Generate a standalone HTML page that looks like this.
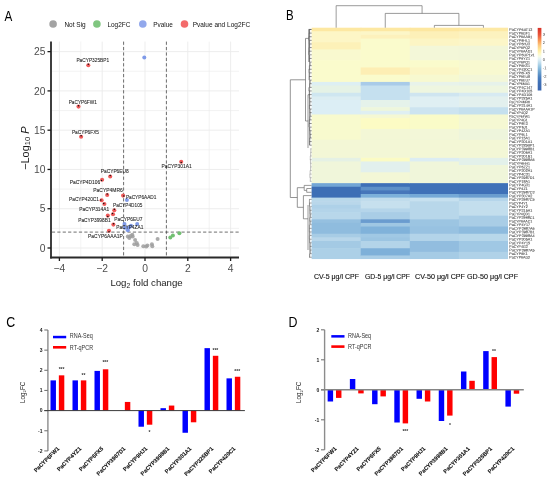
<!DOCTYPE html>
<html><head><meta charset="utf-8"><style>
html,body{margin:0;padding:0;background:#fff;}
svg{display:block;font-family:"Liberation Sans", sans-serif;will-change:transform;}
</style></head><body>
<svg width="550" height="481" viewBox="0 0 550 481">
<rect width="550" height="481" fill="#fff"/>
<text transform="translate(4.5,20.7) scale(0.82,1)" font-size="14.3" fill="#000">A</text>
<circle cx="53.1" cy="24" r="3.8" fill="#a3a3a3"/>
<text x="64.4" y="26.5" font-size="7.6" fill="#111" textLength="21.3" lengthAdjust="spacingAndGlyphs">Not Sig</text>
<circle cx="96.9" cy="24" r="3.8" fill="#80c680"/>
<text x="107.4" y="26.5" font-size="7.6" fill="#111" textLength="22.9" lengthAdjust="spacingAndGlyphs">Log2FC</text>
<circle cx="142.8" cy="24" r="3.8" fill="#92a8ec"/>
<text x="153.2" y="26.5" font-size="7.6" fill="#111" textLength="19.6" lengthAdjust="spacingAndGlyphs">Pvalue</text>
<circle cx="184.5" cy="24" r="3.8" fill="#f36b6b"/>
<text x="192.7" y="26.5" font-size="7.6" fill="#111" textLength="57.5" lengthAdjust="spacingAndGlyphs">Pvalue and Log2FC</text>
<line x1="59.40" y1="41.6" x2="59.40" y2="256.5" stroke="#ebebeb" stroke-width="0.9"/>
<line x1="80.80" y1="41.6" x2="80.80" y2="256.5" stroke="#ebebeb" stroke-width="0.6"/>
<line x1="102.20" y1="41.6" x2="102.20" y2="256.5" stroke="#ebebeb" stroke-width="0.9"/>
<line x1="123.60" y1="41.6" x2="123.60" y2="256.5" stroke="#ebebeb" stroke-width="0.6"/>
<line x1="145.00" y1="41.6" x2="145.00" y2="256.5" stroke="#ebebeb" stroke-width="0.9"/>
<line x1="166.40" y1="41.6" x2="166.40" y2="256.5" stroke="#ebebeb" stroke-width="0.6"/>
<line x1="187.80" y1="41.6" x2="187.80" y2="256.5" stroke="#ebebeb" stroke-width="0.9"/>
<line x1="209.20" y1="41.6" x2="209.20" y2="256.5" stroke="#ebebeb" stroke-width="0.6"/>
<line x1="230.60" y1="41.6" x2="230.60" y2="256.5" stroke="#ebebeb" stroke-width="0.9"/>
<line x1="51.9" y1="248.00" x2="239" y2="248.00" stroke="#ebebeb" stroke-width="0.9"/>
<line x1="51.9" y1="228.36" x2="239" y2="228.36" stroke="#ebebeb" stroke-width="0.6"/>
<line x1="51.9" y1="208.72" x2="239" y2="208.72" stroke="#ebebeb" stroke-width="0.9"/>
<line x1="51.9" y1="189.09" x2="239" y2="189.09" stroke="#ebebeb" stroke-width="0.6"/>
<line x1="51.9" y1="169.45" x2="239" y2="169.45" stroke="#ebebeb" stroke-width="0.9"/>
<line x1="51.9" y1="149.81" x2="239" y2="149.81" stroke="#ebebeb" stroke-width="0.6"/>
<line x1="51.9" y1="130.18" x2="239" y2="130.18" stroke="#ebebeb" stroke-width="0.9"/>
<line x1="51.9" y1="110.54" x2="239" y2="110.54" stroke="#ebebeb" stroke-width="0.6"/>
<line x1="51.9" y1="90.90" x2="239" y2="90.90" stroke="#ebebeb" stroke-width="0.9"/>
<line x1="51.9" y1="71.26" x2="239" y2="71.26" stroke="#ebebeb" stroke-width="0.6"/>
<line x1="51.9" y1="51.62" x2="239" y2="51.62" stroke="#ebebeb" stroke-width="0.9"/>
<line x1="123.60" y1="41.6" x2="123.60" y2="256.5" stroke="#4a4a4a" stroke-width="0.8" stroke-dasharray="3.2,2.2"/>
<line x1="166.40" y1="41.6" x2="166.40" y2="256.5" stroke="#4a4a4a" stroke-width="0.8" stroke-dasharray="3.2,2.2"/>
<line x1="51.9" y1="232.1" x2="239" y2="232.1" stroke="#4a4a4a" stroke-width="0.8" stroke-dasharray="3.2,2.2"/>
<circle cx="127.8" cy="236.4" r="2" fill="#9c9c9c" fill-opacity="0.85"/>
<circle cx="129.4" cy="238" r="2" fill="#9c9c9c" fill-opacity="0.85"/>
<circle cx="132.3" cy="234.8" r="2" fill="#9c9c9c" fill-opacity="0.85"/>
<circle cx="132.7" cy="236.4" r="2" fill="#9c9c9c" fill-opacity="0.85"/>
<circle cx="135.1" cy="240.1" r="2" fill="#9c9c9c" fill-opacity="0.85"/>
<circle cx="134.3" cy="244.2" r="2" fill="#9c9c9c" fill-opacity="0.85"/>
<circle cx="136.8" cy="243" r="2" fill="#9c9c9c" fill-opacity="0.85"/>
<circle cx="137.6" cy="245" r="2" fill="#9c9c9c" fill-opacity="0.85"/>
<circle cx="143.3" cy="246.2" r="2" fill="#9c9c9c" fill-opacity="0.85"/>
<circle cx="146.2" cy="246.6" r="2" fill="#9c9c9c" fill-opacity="0.85"/>
<circle cx="147.4" cy="245.4" r="2" fill="#9c9c9c" fill-opacity="0.85"/>
<circle cx="151.9" cy="244.2" r="2" fill="#9c9c9c" fill-opacity="0.85"/>
<circle cx="152.3" cy="246.2" r="2" fill="#9c9c9c" fill-opacity="0.85"/>
<circle cx="157.6" cy="238.9" r="2" fill="#9c9c9c" fill-opacity="0.85"/>
<circle cx="130.5" cy="236.0" r="2" fill="#9c9c9c" fill-opacity="0.85"/>
<circle cx="170.3" cy="237.5" r="2" fill="#72c072"/>
<circle cx="172.9" cy="235.4" r="2" fill="#72c072"/>
<circle cx="179.4" cy="233.2" r="2" fill="#72c072"/>
<circle cx="144.3" cy="57.6" r="2" fill="#7f9ae8"/>
<circle cx="126.9" cy="199.9" r="2" fill="#7f9ae8"/>
<circle cx="124.5" cy="224.1" r="2" fill="#7f9ae8"/>
<circle cx="131" cy="225.8" r="2" fill="#7f9ae8"/>
<circle cx="137.2" cy="224.1" r="2" fill="#7f9ae8"/>
<circle cx="124.9" cy="227.8" r="2" fill="#7f9ae8"/>
<circle cx="127.8" cy="230.3" r="2" fill="#7f9ae8"/>
<circle cx="129" cy="227.4" r="2" fill="#7f9ae8"/>
<circle cx="88.3" cy="65.2" r="2.05" fill="#f05a5a"/>
<circle cx="78.5" cy="106.6" r="2.05" fill="#f05a5a"/>
<circle cx="81.1" cy="136.7" r="2.05" fill="#f05a5a"/>
<circle cx="181.2" cy="161.7" r="2.05" fill="#f05a5a"/>
<circle cx="110.2" cy="176.5" r="2.05" fill="#f05a5a"/>
<circle cx="102.1" cy="179.7" r="2.05" fill="#f05a5a"/>
<circle cx="107.2" cy="195" r="2.05" fill="#f05a5a"/>
<circle cx="123.1" cy="195.6" r="2.05" fill="#f05a5a"/>
<circle cx="101.6" cy="200.3" r="2.05" fill="#f05a5a"/>
<circle cx="104.4" cy="204" r="2.05" fill="#f05a5a"/>
<circle cx="114.3" cy="210.2" r="2.05" fill="#f05a5a"/>
<circle cx="113" cy="214.3" r="2.05" fill="#f05a5a"/>
<circle cx="107.8" cy="215.6" r="2.05" fill="#f05a5a"/>
<circle cx="113.4" cy="224.6" r="2.05" fill="#f05a5a"/>
<circle cx="109" cy="230.8" r="2.05" fill="#f05a5a"/>
<circle cx="88.30" cy="64.30" r="0.75" fill="#111"/>
<circle cx="78.50" cy="105.70" r="0.75" fill="#111"/>
<circle cx="81.10" cy="135.80" r="0.75" fill="#111"/>
<circle cx="181.20" cy="162.60" r="0.75" fill="#111"/>
<circle cx="110.20" cy="175.60" r="0.75" fill="#111"/>
<circle cx="101.53" cy="180.40" r="0.75" fill="#111"/>
<circle cx="107.20" cy="194.10" r="0.75" fill="#111"/>
<circle cx="123.84" cy="196.11" r="0.75" fill="#111"/>
<circle cx="100.80" cy="199.90" r="0.75" fill="#111"/>
<circle cx="103.74" cy="203.39" r="0.75" fill="#111"/>
<circle cx="114.30" cy="209.30" r="0.75" fill="#111"/>
<circle cx="112.47" cy="213.58" r="0.75" fill="#111"/>
<circle cx="107.80" cy="216.50" r="0.75" fill="#111"/>
<circle cx="113.54" cy="223.71" r="0.75" fill="#111"/>
<circle cx="109.00" cy="231.70" r="0.75" fill="#111"/>
<text x="76.4" y="62.15" font-size="5.3" fill="#222" stroke="#222" stroke-width="0.08" textLength="32.8" lengthAdjust="spacingAndGlyphs">PaCYP325BP1</text>
<text x="68.7" y="103.85" font-size="5.3" fill="#222" stroke="#222" stroke-width="0.08" textLength="28.1" lengthAdjust="spacingAndGlyphs">PaCYP6FW1</text>
<text x="71.9" y="133.75" font-size="5.3" fill="#222" stroke="#222" stroke-width="0.08" textLength="27.1" lengthAdjust="spacingAndGlyphs">PaCYP6FX5</text>
<text x="161.6" y="168.15" font-size="5.3" fill="#222" stroke="#222" stroke-width="0.08" textLength="30.0" lengthAdjust="spacingAndGlyphs">PaCYP301A1</text>
<text x="100.8" y="173.35" font-size="5.3" fill="#222" stroke="#222" stroke-width="0.08" textLength="27.9" lengthAdjust="spacingAndGlyphs">PaCYP6EU8</text>
<text x="69.7" y="183.65" font-size="5.3" fill="#222" stroke="#222" stroke-width="0.08" textLength="30.6" lengthAdjust="spacingAndGlyphs">PaCYP4D106</text>
<text x="93.3" y="191.75" font-size="5.3" fill="#222" stroke="#222" stroke-width="0.08" textLength="29.4" lengthAdjust="spacingAndGlyphs">PaCYP4MR6</text>
<text x="125.9" y="199.25" font-size="5.3" fill="#222" stroke="#222" stroke-width="0.08" textLength="30.5" lengthAdjust="spacingAndGlyphs">PaCYP6AAD1</text>
<text x="69" y="200.75" font-size="5.3" fill="#222" stroke="#222" stroke-width="0.08" textLength="30.0" lengthAdjust="spacingAndGlyphs">PaCYP420C1</text>
<text x="113" y="206.75" font-size="5.3" fill="#222" stroke="#222" stroke-width="0.08" textLength="29.4" lengthAdjust="spacingAndGlyphs">PaCYP4D105</text>
<text x="79.3" y="210.75" font-size="5.3" fill="#222" stroke="#222" stroke-width="0.08" textLength="29.8" lengthAdjust="spacingAndGlyphs">PaCYP314A1</text>
<text x="78.2" y="222.25" font-size="5.3" fill="#222" stroke="#222" stroke-width="0.08" textLength="32.4" lengthAdjust="spacingAndGlyphs">PaCYP3998B1</text>
<text x="114.3" y="220.75" font-size="5.3" fill="#222" stroke="#222" stroke-width="0.08" textLength="28.1" lengthAdjust="spacingAndGlyphs">PaCYP6EU7</text>
<text x="116.2" y="228.75" font-size="5.3" fill="#222" stroke="#222" stroke-width="0.08" textLength="27.1" lengthAdjust="spacingAndGlyphs">PaCYP4ZA1</text>
<text x="88.1" y="238.15" font-size="5.3" fill="#222" stroke="#222" stroke-width="0.08" textLength="34.6" lengthAdjust="spacingAndGlyphs">PaCYP6AAA1P</text>
<line x1="51" y1="41.6" x2="51" y2="258.4" stroke="#2a2a2a" stroke-width="1.8"/>
<line x1="50.1" y1="257.5" x2="239" y2="257.5" stroke="#2a2a2a" stroke-width="1.8"/>
<line x1="47.5" y1="248.00" x2="51" y2="248.00" stroke="#1a1a1a" stroke-width="1.3"/>
<text x="45.5" y="251.70" font-size="10.3" fill="#4d4d4d" text-anchor="end">0</text>
<line x1="47.5" y1="208.72" x2="51" y2="208.72" stroke="#1a1a1a" stroke-width="1.3"/>
<text x="45.5" y="212.42" font-size="10.3" fill="#4d4d4d" text-anchor="end">5</text>
<line x1="47.5" y1="169.45" x2="51" y2="169.45" stroke="#1a1a1a" stroke-width="1.3"/>
<text x="45.5" y="173.15" font-size="10.3" fill="#4d4d4d" text-anchor="end">10</text>
<line x1="47.5" y1="130.18" x2="51" y2="130.18" stroke="#1a1a1a" stroke-width="1.3"/>
<text x="45.5" y="133.88" font-size="10.3" fill="#4d4d4d" text-anchor="end">15</text>
<line x1="47.5" y1="90.90" x2="51" y2="90.90" stroke="#1a1a1a" stroke-width="1.3"/>
<text x="45.5" y="94.60" font-size="10.3" fill="#4d4d4d" text-anchor="end">20</text>
<line x1="47.5" y1="51.62" x2="51" y2="51.62" stroke="#1a1a1a" stroke-width="1.3"/>
<text x="45.5" y="55.33" font-size="10.3" fill="#4d4d4d" text-anchor="end">25</text>
<line x1="59.40" y1="257.5" x2="59.40" y2="261" stroke="#1a1a1a" stroke-width="1.3"/>
<text x="59.40" y="272.2" font-size="10.3" fill="#4d4d4d" text-anchor="middle">−4</text>
<line x1="102.20" y1="257.5" x2="102.20" y2="261" stroke="#1a1a1a" stroke-width="1.3"/>
<text x="102.20" y="272.2" font-size="10.3" fill="#4d4d4d" text-anchor="middle">−2</text>
<line x1="145.00" y1="257.5" x2="145.00" y2="261" stroke="#1a1a1a" stroke-width="1.3"/>
<text x="145.00" y="272.2" font-size="10.3" fill="#4d4d4d" text-anchor="middle">0</text>
<line x1="187.80" y1="257.5" x2="187.80" y2="261" stroke="#1a1a1a" stroke-width="1.3"/>
<text x="187.80" y="272.2" font-size="10.3" fill="#4d4d4d" text-anchor="middle">2</text>
<line x1="230.60" y1="257.5" x2="230.60" y2="261" stroke="#1a1a1a" stroke-width="1.3"/>
<text x="230.60" y="272.2" font-size="10.3" fill="#4d4d4d" text-anchor="middle">4</text>
<text x="110.4" y="285.5" font-size="9.65" fill="#1a1a1a">Log<tspan font-size="6.8" dy="2.4">2</tspan><tspan dy="-2.4"> fold change</tspan></text>
<text transform="translate(29.2,148.2) rotate(-90)" font-size="10.9" fill="#1a1a1a" text-anchor="middle">−Log<tspan font-size="7.6" dy="0.9">10</tspan><tspan dy="-0.9"> </tspan><tspan font-style="italic">P</tspan></text>
<text transform="translate(285.9,19.7) scale(0.8,1)" font-size="14.3" fill="#000">B</text>
<rect x="311.60" y="27.70" width="49.70" height="4.21" fill="#fde8a2"/>
<rect x="311.60" y="31.31" width="49.70" height="11.45" fill="#fdf6c6"/>
<rect x="311.60" y="42.16" width="49.70" height="7.83" fill="#fdf1b8"/>
<rect x="311.60" y="49.39" width="49.70" height="11.45" fill="#f9f9cf"/>
<rect x="311.60" y="60.23" width="49.70" height="22.29" fill="#fafbcc"/>
<rect x="311.60" y="81.92" width="49.70" height="4.21" fill="#ddeff3"/>
<rect x="311.60" y="85.54" width="49.70" height="7.83" fill="#e5f2e6"/>
<rect x="311.60" y="92.77" width="49.70" height="4.21" fill="#cfe6f0"/>
<rect x="311.60" y="96.39" width="49.70" height="4.21" fill="#dcedf2"/>
<rect x="311.60" y="100.00" width="49.70" height="15.06" fill="#dceef5"/>
<rect x="311.60" y="114.46" width="49.70" height="25.91" fill="#f8face"/>
<rect x="311.60" y="139.77" width="49.70" height="18.68" fill="#f3f7d6"/>
<rect x="311.60" y="157.84" width="49.70" height="4.21" fill="#e5f1e5"/>
<rect x="311.60" y="161.45" width="49.70" height="22.29" fill="#f0f6da"/>
<rect x="311.60" y="183.15" width="49.70" height="4.21" fill="#72a5d5"/>
<rect x="311.60" y="186.76" width="49.70" height="11.45" fill="#3d6eb5"/>
<rect x="311.60" y="197.60" width="49.70" height="4.21" fill="#b9d8ea"/>
<rect x="311.60" y="201.22" width="49.70" height="4.21" fill="#b9d7ea"/>
<rect x="311.60" y="204.84" width="49.70" height="4.21" fill="#aed1e8"/>
<rect x="311.60" y="208.45" width="49.70" height="4.21" fill="#b3d4e9"/>
<rect x="311.60" y="212.06" width="49.70" height="7.83" fill="#b8d7ea"/>
<rect x="311.60" y="219.29" width="49.70" height="4.21" fill="#95c0e0"/>
<rect x="311.60" y="222.91" width="49.70" height="11.45" fill="#8fbcde"/>
<rect x="311.60" y="233.75" width="49.70" height="4.21" fill="#a7cce5"/>
<rect x="311.60" y="237.37" width="49.70" height="4.21" fill="#b8d6ea"/>
<rect x="311.60" y="240.99" width="49.70" height="7.83" fill="#a4cae4"/>
<rect x="311.60" y="248.22" width="49.70" height="10.85" fill="#acd0e7"/>
<rect x="360.70" y="27.70" width="49.70" height="4.21" fill="#fde8a2"/>
<rect x="360.70" y="31.31" width="49.70" height="4.21" fill="#fcf6c8"/>
<rect x="360.70" y="34.93" width="49.70" height="4.21" fill="#fdf1bc"/>
<rect x="360.70" y="38.55" width="49.70" height="29.52" fill="#fafbcc"/>
<rect x="360.70" y="67.47" width="49.70" height="7.83" fill="#fdeeb4"/>
<rect x="360.70" y="74.70" width="49.70" height="7.83" fill="#fafbcc"/>
<rect x="360.70" y="81.92" width="49.70" height="4.21" fill="#a9cbe8"/>
<rect x="360.70" y="85.54" width="49.70" height="15.06" fill="#c5e0ef"/>
<rect x="360.70" y="100.00" width="49.70" height="7.83" fill="#e5f2ea"/>
<rect x="360.70" y="107.23" width="49.70" height="4.21" fill="#eef6dc"/>
<rect x="360.70" y="110.85" width="49.70" height="4.21" fill="#dfeff2"/>
<rect x="360.70" y="114.46" width="49.70" height="4.21" fill="#f5f8d3"/>
<rect x="360.70" y="118.08" width="49.70" height="11.45" fill="#fcfbc4"/>
<rect x="360.70" y="128.92" width="49.70" height="11.45" fill="#f3f7d6"/>
<rect x="360.70" y="139.77" width="49.70" height="18.68" fill="#f3f7d6"/>
<rect x="360.70" y="157.84" width="49.70" height="4.21" fill="#fbfbc4"/>
<rect x="360.70" y="161.45" width="49.70" height="11.45" fill="#e2f0ed"/>
<rect x="360.70" y="172.30" width="49.70" height="11.45" fill="#f3f7d6"/>
<rect x="360.70" y="183.15" width="49.70" height="4.21" fill="#3e70b7"/>
<rect x="360.70" y="186.76" width="49.70" height="4.21" fill="#5d90c8"/>
<rect x="360.70" y="190.38" width="49.70" height="4.21" fill="#4676ba"/>
<rect x="360.70" y="193.99" width="49.70" height="4.21" fill="#7cb0da"/>
<rect x="360.70" y="197.60" width="49.70" height="4.21" fill="#c0dcec"/>
<rect x="360.70" y="201.22" width="49.70" height="7.83" fill="#c6e0ee"/>
<rect x="360.70" y="208.45" width="49.70" height="4.21" fill="#b5d5ea"/>
<rect x="360.70" y="212.06" width="49.70" height="7.83" fill="#a9cde6"/>
<rect x="360.70" y="219.29" width="49.70" height="4.21" fill="#6a9ccf"/>
<rect x="360.70" y="222.91" width="49.70" height="4.21" fill="#9fc7e3"/>
<rect x="360.70" y="226.53" width="49.70" height="7.83" fill="#80b2da"/>
<rect x="360.70" y="233.75" width="49.70" height="4.21" fill="#a0c8e4"/>
<rect x="360.70" y="237.37" width="49.70" height="4.21" fill="#9cc5e2"/>
<rect x="360.70" y="240.99" width="49.70" height="7.83" fill="#b3d4e9"/>
<rect x="360.70" y="248.22" width="49.70" height="7.83" fill="#7eb0d9"/>
<rect x="360.70" y="255.44" width="49.70" height="3.62" fill="#a9cde6"/>
<rect x="409.80" y="27.70" width="49.70" height="4.21" fill="#fde7a0"/>
<rect x="409.80" y="31.31" width="49.70" height="7.83" fill="#fdf0b8"/>
<rect x="409.80" y="38.55" width="49.70" height="7.83" fill="#fcf5c4"/>
<rect x="409.80" y="45.78" width="49.70" height="15.06" fill="#f3f7d8"/>
<rect x="409.80" y="60.23" width="49.70" height="7.83" fill="#fafbcc"/>
<rect x="409.80" y="67.47" width="49.70" height="7.83" fill="#fbf6c6"/>
<rect x="409.80" y="74.70" width="49.70" height="7.83" fill="#f7f9d0"/>
<rect x="409.80" y="81.92" width="49.70" height="4.21" fill="#e8f3ea"/>
<rect x="409.80" y="85.54" width="49.70" height="7.83" fill="#eef6e0"/>
<rect x="409.80" y="92.77" width="49.70" height="4.21" fill="#cfe5f0"/>
<rect x="409.80" y="96.39" width="49.70" height="11.45" fill="#dfeff3"/>
<rect x="409.80" y="107.23" width="49.70" height="7.83" fill="#cde4f0"/>
<rect x="409.80" y="114.46" width="49.70" height="15.06" fill="#fafbc8"/>
<rect x="409.80" y="128.92" width="49.70" height="11.45" fill="#f3f7d8"/>
<rect x="409.80" y="139.77" width="49.70" height="18.68" fill="#f3f7d6"/>
<rect x="409.80" y="157.84" width="49.70" height="4.21" fill="#dcedf3"/>
<rect x="409.80" y="161.45" width="49.70" height="22.29" fill="#f0f6da"/>
<rect x="409.80" y="183.15" width="49.70" height="11.45" fill="#3f71b8"/>
<rect x="409.80" y="193.99" width="49.70" height="4.21" fill="#75a9d7"/>
<rect x="409.80" y="197.60" width="49.70" height="4.21" fill="#c6e0ef"/>
<rect x="409.80" y="201.22" width="49.70" height="18.68" fill="#b8d7ea"/>
<rect x="409.80" y="219.29" width="49.70" height="7.83" fill="#9cc5e2"/>
<rect x="409.80" y="226.53" width="49.70" height="7.83" fill="#98c2e1"/>
<rect x="409.80" y="233.75" width="49.70" height="7.83" fill="#b3d4e9"/>
<rect x="409.80" y="240.99" width="49.70" height="11.45" fill="#92bddf"/>
<rect x="409.80" y="251.83" width="49.70" height="7.23" fill="#a5cbe5"/>
<rect x="458.90" y="27.70" width="49.10" height="4.21" fill="#fde9a5"/>
<rect x="458.90" y="31.31" width="49.10" height="7.83" fill="#fcf2bf"/>
<rect x="458.90" y="38.55" width="49.10" height="7.83" fill="#fcf6c8"/>
<rect x="458.90" y="45.78" width="49.10" height="15.06" fill="#f2f6d8"/>
<rect x="458.90" y="60.23" width="49.10" height="15.06" fill="#f8f9d0"/>
<rect x="458.90" y="74.70" width="49.10" height="7.83" fill="#f3f7d8"/>
<rect x="458.90" y="81.92" width="49.10" height="4.21" fill="#e6f2ea"/>
<rect x="458.90" y="85.54" width="49.10" height="7.83" fill="#eef6e0"/>
<rect x="458.90" y="92.77" width="49.10" height="4.21" fill="#d7eaf2"/>
<rect x="458.90" y="96.39" width="49.10" height="11.45" fill="#e3f0ee"/>
<rect x="458.90" y="107.23" width="49.10" height="7.83" fill="#c5e0ee"/>
<rect x="458.90" y="114.46" width="49.10" height="15.06" fill="#f5f8d3"/>
<rect x="458.90" y="128.92" width="49.10" height="11.45" fill="#eef5dc"/>
<rect x="458.90" y="139.77" width="49.10" height="18.68" fill="#f3f7d6"/>
<rect x="458.90" y="157.84" width="49.10" height="7.83" fill="#e3f1ea"/>
<rect x="458.90" y="165.07" width="49.10" height="18.68" fill="#f0f6da"/>
<rect x="458.90" y="183.15" width="49.10" height="11.45" fill="#3f71b8"/>
<rect x="458.90" y="193.99" width="49.10" height="4.21" fill="#6a9dcf"/>
<rect x="458.90" y="197.60" width="49.10" height="4.21" fill="#b5d5ea"/>
<rect x="458.90" y="201.22" width="49.10" height="15.06" fill="#c3deed"/>
<rect x="458.90" y="215.68" width="49.10" height="11.45" fill="#a9cde6"/>
<rect x="458.90" y="226.53" width="49.10" height="7.83" fill="#8ebbde"/>
<rect x="458.90" y="233.75" width="49.10" height="7.83" fill="#b8d7ea"/>
<rect x="458.90" y="240.99" width="49.10" height="11.45" fill="#a0c8e4"/>
<rect x="458.90" y="251.83" width="49.10" height="7.23" fill="#b0d2e8"/>
<line x1="434.35" y1="25.40" x2="483.45" y2="25.40" stroke="#707070" stroke-width="0.7"/>
<line x1="434.35" y1="25.40" x2="434.35" y2="27.70" stroke="#707070" stroke-width="0.7"/>
<line x1="483.45" y1="25.40" x2="483.45" y2="27.70" stroke="#707070" stroke-width="0.7"/>
<line x1="385.25" y1="13.40" x2="458.90" y2="13.40" stroke="#707070" stroke-width="0.7"/>
<line x1="385.25" y1="13.40" x2="385.25" y2="27.70" stroke="#707070" stroke-width="0.7"/>
<line x1="458.90" y1="13.40" x2="458.90" y2="25.40" stroke="#707070" stroke-width="0.7"/>
<line x1="336.15" y1="5.70" x2="422.08" y2="5.70" stroke="#707070" stroke-width="0.7"/>
<line x1="336.15" y1="5.70" x2="336.15" y2="27.70" stroke="#707070" stroke-width="0.7"/>
<line x1="422.08" y1="5.70" x2="422.08" y2="13.40" stroke="#707070" stroke-width="0.7"/>
<line x1="290.30" y1="79.80" x2="290.30" y2="197.50" stroke="#707070" stroke-width="0.75"/>
<line x1="290.30" y1="79.80" x2="305.50" y2="79.80" stroke="#707070" stroke-width="0.75"/>
<line x1="290.30" y1="197.50" x2="297.30" y2="197.50" stroke="#707070" stroke-width="0.75"/>
<line x1="305.50" y1="38.40" x2="305.50" y2="121.00" stroke="#707070" stroke-width="0.75"/>
<line x1="305.50" y1="38.40" x2="308.70" y2="38.40" stroke="#707070" stroke-width="0.7"/>
<line x1="305.50" y1="121.00" x2="308.00" y2="121.00" stroke="#707070" stroke-width="0.7"/>
<line x1="308.70" y1="29.40" x2="308.70" y2="62.00" stroke="#707070" stroke-width="0.7"/>
<line x1="308.70" y1="29.40" x2="311.20" y2="29.40" stroke="#707070" stroke-width="0.7"/>
<line x1="308.00" y1="94.70" x2="308.00" y2="148.00" stroke="#707070" stroke-width="0.7"/>
<line x1="308.00" y1="94.70" x2="310.00" y2="94.70" stroke="#707070" stroke-width="0.7"/>
<line x1="297.30" y1="187.70" x2="297.30" y2="207.30" stroke="#707070" stroke-width="0.75"/>
<line x1="297.30" y1="187.70" x2="304.20" y2="187.70" stroke="#707070" stroke-width="0.75"/>
<line x1="304.20" y1="185.40" x2="304.20" y2="190.40" stroke="#707070" stroke-width="0.7"/>
<line x1="304.20" y1="185.40" x2="311.60" y2="185.40" stroke="#707070" stroke-width="0.7"/>
<line x1="304.20" y1="190.40" x2="306.70" y2="190.40" stroke="#707070" stroke-width="0.7"/>
<line x1="306.70" y1="188.50" x2="306.70" y2="192.30" stroke="#707070" stroke-width="0.7"/>
<line x1="306.70" y1="188.50" x2="311.60" y2="188.50" stroke="#707070" stroke-width="0.7"/>
<line x1="306.70" y1="192.30" x2="311.60" y2="192.30" stroke="#707070" stroke-width="0.7"/>
<line x1="297.30" y1="207.30" x2="303.40" y2="207.30" stroke="#707070" stroke-width="0.75"/>
<line x1="303.40" y1="195.60" x2="303.40" y2="218.80" stroke="#707070" stroke-width="0.75"/>
<line x1="303.40" y1="195.60" x2="311.60" y2="195.60" stroke="#707070" stroke-width="0.7"/>
<line x1="303.40" y1="218.80" x2="308.00" y2="218.80" stroke="#707070" stroke-width="0.7"/>
<line x1="308.00" y1="205.00" x2="308.00" y2="250.00" stroke="#707070" stroke-width="0.7"/>
<line x1="309.32" y1="29.51" x2="311.70" y2="29.51" stroke="#444" stroke-width="0.6"/>
<line x1="309.04" y1="33.12" x2="311.70" y2="33.12" stroke="#444" stroke-width="0.6"/>
<line x1="309.43" y1="29.51" x2="309.43" y2="33.12" stroke="#444" stroke-width="0.6"/>
<line x1="308.92" y1="36.74" x2="311.70" y2="36.74" stroke="#444" stroke-width="0.6"/>
<line x1="309.24" y1="33.12" x2="309.24" y2="36.74" stroke="#444" stroke-width="0.6"/>
<line x1="309.39" y1="40.35" x2="311.70" y2="40.35" stroke="#444" stroke-width="0.6"/>
<line x1="308.95" y1="36.74" x2="308.95" y2="40.35" stroke="#444" stroke-width="0.6"/>
<line x1="309.61" y1="43.97" x2="311.70" y2="43.97" stroke="#444" stroke-width="0.6"/>
<line x1="309.41" y1="40.35" x2="309.41" y2="43.97" stroke="#444" stroke-width="0.6"/>
<line x1="309.49" y1="47.58" x2="311.70" y2="47.58" stroke="#444" stroke-width="0.6"/>
<line x1="309.54" y1="43.97" x2="309.54" y2="47.58" stroke="#444" stroke-width="0.6"/>
<line x1="308.95" y1="51.20" x2="311.70" y2="51.20" stroke="#444" stroke-width="0.6"/>
<line x1="309.20" y1="47.58" x2="309.20" y2="51.20" stroke="#444" stroke-width="0.6"/>
<line x1="310.12" y1="54.81" x2="311.70" y2="54.81" stroke="#444" stroke-width="0.6"/>
<line x1="309.02" y1="51.20" x2="309.02" y2="54.81" stroke="#444" stroke-width="0.6"/>
<line x1="309.16" y1="58.43" x2="311.70" y2="58.43" stroke="#444" stroke-width="0.6"/>
<line x1="309.53" y1="54.81" x2="309.53" y2="58.43" stroke="#444" stroke-width="0.6"/>
<line x1="310.32" y1="62.04" x2="311.70" y2="62.04" stroke="#444" stroke-width="0.6"/>
<line x1="309.50" y1="58.43" x2="309.50" y2="62.04" stroke="#444" stroke-width="0.6"/>
<line x1="309.43" y1="65.66" x2="311.70" y2="65.66" stroke="#444" stroke-width="0.6"/>
<line x1="310.02" y1="62.04" x2="310.02" y2="65.66" stroke="#444" stroke-width="0.6"/>
<line x1="308.87" y1="69.27" x2="311.70" y2="69.27" stroke="#444" stroke-width="0.6"/>
<line x1="309.39" y1="65.66" x2="309.39" y2="69.27" stroke="#444" stroke-width="0.6"/>
<line x1="309.26" y1="72.89" x2="311.70" y2="72.89" stroke="#444" stroke-width="0.6"/>
<line x1="308.96" y1="69.27" x2="308.96" y2="72.89" stroke="#444" stroke-width="0.6"/>
<line x1="308.99" y1="76.50" x2="311.70" y2="76.50" stroke="#444" stroke-width="0.6"/>
<line x1="309.17" y1="72.89" x2="309.17" y2="76.50" stroke="#444" stroke-width="0.6"/>
<line x1="310.11" y1="80.12" x2="311.70" y2="80.12" stroke="#444" stroke-width="0.6"/>
<line x1="309.10" y1="76.50" x2="309.10" y2="80.12" stroke="#444" stroke-width="0.6"/>
<line x1="309.73" y1="83.73" x2="311.70" y2="83.73" stroke="#444" stroke-width="0.6"/>
<line x1="310.11" y1="80.12" x2="310.11" y2="83.73" stroke="#444" stroke-width="0.6"/>
<line x1="309.40" y1="87.35" x2="311.70" y2="87.35" stroke="#444" stroke-width="0.6"/>
<line x1="309.72" y1="83.73" x2="309.72" y2="87.35" stroke="#444" stroke-width="0.6"/>
<line x1="308.90" y1="90.96" x2="311.70" y2="90.96" stroke="#444" stroke-width="0.6"/>
<line x1="308.94" y1="87.35" x2="308.94" y2="90.96" stroke="#444" stroke-width="0.6"/>
<line x1="309.13" y1="94.58" x2="311.70" y2="94.58" stroke="#444" stroke-width="0.6"/>
<line x1="309.31" y1="90.96" x2="309.31" y2="94.58" stroke="#444" stroke-width="0.6"/>
<line x1="309.48" y1="98.19" x2="311.70" y2="98.19" stroke="#444" stroke-width="0.6"/>
<line x1="309.32" y1="94.58" x2="309.32" y2="98.19" stroke="#444" stroke-width="0.6"/>
<line x1="309.74" y1="101.81" x2="311.70" y2="101.81" stroke="#444" stroke-width="0.6"/>
<line x1="309.76" y1="98.19" x2="309.76" y2="101.81" stroke="#444" stroke-width="0.6"/>
<line x1="309.28" y1="105.42" x2="311.70" y2="105.42" stroke="#444" stroke-width="0.6"/>
<line x1="309.76" y1="101.81" x2="309.76" y2="105.42" stroke="#444" stroke-width="0.6"/>
<line x1="309.92" y1="109.04" x2="311.70" y2="109.04" stroke="#444" stroke-width="0.6"/>
<line x1="309.43" y1="105.42" x2="309.43" y2="109.04" stroke="#444" stroke-width="0.6"/>
<line x1="309.72" y1="112.65" x2="311.70" y2="112.65" stroke="#444" stroke-width="0.6"/>
<line x1="310.03" y1="109.04" x2="310.03" y2="112.65" stroke="#444" stroke-width="0.6"/>
<line x1="310.20" y1="116.27" x2="311.70" y2="116.27" stroke="#444" stroke-width="0.6"/>
<line x1="310.16" y1="112.65" x2="310.16" y2="116.27" stroke="#444" stroke-width="0.6"/>
<line x1="309.26" y1="119.88" x2="311.70" y2="119.88" stroke="#444" stroke-width="0.6"/>
<line x1="309.85" y1="116.27" x2="309.85" y2="119.88" stroke="#444" stroke-width="0.6"/>
<line x1="308.99" y1="123.50" x2="311.70" y2="123.50" stroke="#444" stroke-width="0.6"/>
<line x1="309.24" y1="119.88" x2="309.24" y2="123.50" stroke="#444" stroke-width="0.6"/>
<line x1="310.01" y1="127.11" x2="311.70" y2="127.11" stroke="#444" stroke-width="0.6"/>
<line x1="309.08" y1="123.50" x2="309.08" y2="127.11" stroke="#444" stroke-width="0.6"/>
<line x1="309.58" y1="130.73" x2="311.70" y2="130.73" stroke="#444" stroke-width="0.6"/>
<line x1="309.61" y1="127.11" x2="309.61" y2="130.73" stroke="#444" stroke-width="0.6"/>
<line x1="309.87" y1="134.34" x2="311.70" y2="134.34" stroke="#444" stroke-width="0.6"/>
<line x1="310.04" y1="130.73" x2="310.04" y2="134.34" stroke="#444" stroke-width="0.6"/>
<line x1="309.72" y1="137.96" x2="311.70" y2="137.96" stroke="#444" stroke-width="0.6"/>
<line x1="310.24" y1="134.34" x2="310.24" y2="137.96" stroke="#444" stroke-width="0.6"/>
<line x1="309.30" y1="141.57" x2="311.70" y2="141.57" stroke="#444" stroke-width="0.6"/>
<line x1="309.72" y1="137.96" x2="309.72" y2="141.57" stroke="#444" stroke-width="0.6"/>
<line x1="309.75" y1="145.19" x2="311.70" y2="145.19" stroke="#444" stroke-width="0.6"/>
<line x1="309.65" y1="141.57" x2="309.65" y2="145.19" stroke="#444" stroke-width="0.6"/>
<line x1="310.26" y1="148.80" x2="311.70" y2="148.80" stroke="#777" stroke-width="0.45"/>
<line x1="310.64" y1="152.42" x2="311.70" y2="152.42" stroke="#777" stroke-width="0.45"/>
<line x1="310.82" y1="148.80" x2="310.82" y2="152.42" stroke="#777" stroke-width="0.45"/>
<line x1="310.27" y1="156.03" x2="311.70" y2="156.03" stroke="#777" stroke-width="0.45"/>
<line x1="310.67" y1="152.42" x2="310.67" y2="156.03" stroke="#777" stroke-width="0.45"/>
<line x1="309.86" y1="159.65" x2="311.70" y2="159.65" stroke="#777" stroke-width="0.45"/>
<line x1="310.28" y1="156.03" x2="310.28" y2="159.65" stroke="#777" stroke-width="0.45"/>
<line x1="310.45" y1="163.26" x2="311.70" y2="163.26" stroke="#777" stroke-width="0.45"/>
<line x1="310.46" y1="159.65" x2="310.46" y2="163.26" stroke="#777" stroke-width="0.45"/>
<line x1="310.62" y1="166.88" x2="311.70" y2="166.88" stroke="#777" stroke-width="0.45"/>
<line x1="310.62" y1="163.26" x2="310.62" y2="166.88" stroke="#777" stroke-width="0.45"/>
<line x1="310.19" y1="170.49" x2="311.70" y2="170.49" stroke="#777" stroke-width="0.45"/>
<line x1="310.59" y1="166.88" x2="310.59" y2="170.49" stroke="#777" stroke-width="0.45"/>
<line x1="309.82" y1="174.11" x2="311.70" y2="174.11" stroke="#777" stroke-width="0.45"/>
<line x1="310.10" y1="170.49" x2="310.10" y2="174.11" stroke="#777" stroke-width="0.45"/>
<line x1="309.97" y1="177.72" x2="311.70" y2="177.72" stroke="#777" stroke-width="0.45"/>
<line x1="309.89" y1="174.11" x2="309.89" y2="177.72" stroke="#777" stroke-width="0.45"/>
<line x1="309.86" y1="181.34" x2="311.70" y2="181.34" stroke="#777" stroke-width="0.45"/>
<line x1="310.32" y1="177.72" x2="310.32" y2="181.34" stroke="#777" stroke-width="0.45"/>
<line x1="309.21" y1="199.41" x2="311.70" y2="199.41" stroke="#555" stroke-width="0.55"/>
<line x1="309.40" y1="203.03" x2="311.70" y2="203.03" stroke="#555" stroke-width="0.55"/>
<line x1="309.44" y1="199.41" x2="309.44" y2="203.03" stroke="#555" stroke-width="0.55"/>
<line x1="310.39" y1="206.64" x2="311.70" y2="206.64" stroke="#555" stroke-width="0.55"/>
<line x1="309.44" y1="203.03" x2="309.44" y2="206.64" stroke="#555" stroke-width="0.55"/>
<line x1="309.72" y1="210.26" x2="311.70" y2="210.26" stroke="#555" stroke-width="0.55"/>
<line x1="310.05" y1="206.64" x2="310.05" y2="210.26" stroke="#555" stroke-width="0.55"/>
<line x1="310.41" y1="213.87" x2="311.70" y2="213.87" stroke="#555" stroke-width="0.55"/>
<line x1="310.21" y1="210.26" x2="310.21" y2="213.87" stroke="#555" stroke-width="0.55"/>
<line x1="310.38" y1="217.49" x2="311.70" y2="217.49" stroke="#555" stroke-width="0.55"/>
<line x1="310.55" y1="213.87" x2="310.55" y2="217.49" stroke="#555" stroke-width="0.55"/>
<line x1="309.66" y1="221.10" x2="311.70" y2="221.10" stroke="#555" stroke-width="0.55"/>
<line x1="309.88" y1="217.49" x2="309.88" y2="221.10" stroke="#555" stroke-width="0.55"/>
<line x1="310.41" y1="224.72" x2="311.70" y2="224.72" stroke="#555" stroke-width="0.55"/>
<line x1="310.24" y1="221.10" x2="310.24" y2="224.72" stroke="#555" stroke-width="0.55"/>
<line x1="309.24" y1="228.33" x2="311.70" y2="228.33" stroke="#555" stroke-width="0.55"/>
<line x1="309.35" y1="224.72" x2="309.35" y2="228.33" stroke="#555" stroke-width="0.55"/>
<line x1="309.37" y1="231.95" x2="311.70" y2="231.95" stroke="#555" stroke-width="0.55"/>
<line x1="309.38" y1="228.33" x2="309.38" y2="231.95" stroke="#555" stroke-width="0.55"/>
<line x1="309.78" y1="235.56" x2="311.70" y2="235.56" stroke="#555" stroke-width="0.55"/>
<line x1="309.72" y1="231.95" x2="309.72" y2="235.56" stroke="#555" stroke-width="0.55"/>
<line x1="309.42" y1="239.18" x2="311.70" y2="239.18" stroke="#555" stroke-width="0.55"/>
<line x1="309.42" y1="235.56" x2="309.42" y2="239.18" stroke="#555" stroke-width="0.55"/>
<line x1="309.67" y1="242.79" x2="311.70" y2="242.79" stroke="#555" stroke-width="0.55"/>
<line x1="309.64" y1="239.18" x2="309.64" y2="242.79" stroke="#555" stroke-width="0.55"/>
<line x1="309.91" y1="246.41" x2="311.70" y2="246.41" stroke="#555" stroke-width="0.55"/>
<line x1="310.24" y1="242.79" x2="310.24" y2="246.41" stroke="#555" stroke-width="0.55"/>
<line x1="310.10" y1="250.02" x2="311.70" y2="250.02" stroke="#555" stroke-width="0.55"/>
<line x1="310.22" y1="246.41" x2="310.22" y2="250.02" stroke="#555" stroke-width="0.55"/>
<line x1="309.99" y1="253.64" x2="311.70" y2="253.64" stroke="#555" stroke-width="0.55"/>
<line x1="310.39" y1="250.02" x2="310.39" y2="253.64" stroke="#555" stroke-width="0.55"/>
<line x1="309.09" y1="257.25" x2="311.70" y2="257.25" stroke="#555" stroke-width="0.55"/>
<line x1="309.63" y1="253.64" x2="309.63" y2="257.25" stroke="#555" stroke-width="0.55"/>
<line x1="309.60" y1="29.51" x2="309.60" y2="145.19" stroke="#666" stroke-width="0.6"/>
<line x1="309.60" y1="203.03" x2="309.60" y2="257.25" stroke="#777" stroke-width="0.5"/>
<text transform="translate(509.3,30.86) rotate(0.1)" font-size="3.7" fill="#2b2b2b" stroke="#2b2b2b" stroke-width="0.04" textLength="23.0" lengthAdjust="spacingAndGlyphs">PaCYP6AT13</text>
<text transform="translate(509.3,34.47) rotate(0.1)" font-size="3.7" fill="#2b2b2b" stroke="#2b2b2b" stroke-width="0.04" textLength="20.7" lengthAdjust="spacingAndGlyphs">PaCYP6GF1</text>
<text transform="translate(509.3,38.09) rotate(0.1)" font-size="3.7" fill="#2b2b2b" stroke="#2b2b2b" stroke-width="0.04" textLength="23.0" lengthAdjust="spacingAndGlyphs">PaCYP6AAB1</text>
<text transform="translate(509.3,41.70) rotate(0.1)" font-size="3.7" fill="#2b2b2b" stroke="#2b2b2b" stroke-width="0.04" textLength="20.7" lengthAdjust="spacingAndGlyphs">PaCYP9HL1</text>
<text transform="translate(509.3,45.32) rotate(0.1)" font-size="3.7" fill="#2b2b2b" stroke="#2b2b2b" stroke-width="0.04" textLength="20.7" lengthAdjust="spacingAndGlyphs">PaCYP6HJ3</text>
<text transform="translate(509.3,48.93) rotate(0.1)" font-size="3.7" fill="#2b2b2b" stroke="#2b2b2b" stroke-width="0.04" textLength="20.7" lengthAdjust="spacingAndGlyphs">PaCYP6PQ2</text>
<text transform="translate(509.3,52.55) rotate(0.1)" font-size="3.7" fill="#2b2b2b" stroke="#2b2b2b" stroke-width="0.04" textLength="23.0" lengthAdjust="spacingAndGlyphs">PaCYP6AAD1</text>
<text transform="translate(509.3,56.16) rotate(0.1)" font-size="3.7" fill="#2b2b2b" stroke="#2b2b2b" stroke-width="0.04" textLength="25.3" lengthAdjust="spacingAndGlyphs">PaCYP6UP1v1</text>
<text transform="translate(509.3,59.78) rotate(0.1)" font-size="3.7" fill="#2b2b2b" stroke="#2b2b2b" stroke-width="0.04" textLength="20.7" lengthAdjust="spacingAndGlyphs">PaCYP6YZ1</text>
<text transform="translate(509.3,63.39) rotate(0.1)" font-size="3.7" fill="#2b2b2b" stroke="#2b2b2b" stroke-width="0.04" textLength="20.7" lengthAdjust="spacingAndGlyphs">PaCYP6PQ1</text>
<text transform="translate(509.3,67.01) rotate(0.1)" font-size="3.7" fill="#2b2b2b" stroke="#2b2b2b" stroke-width="0.04" textLength="20.7" lengthAdjust="spacingAndGlyphs">PaCYP6KS1</text>
<text transform="translate(509.3,70.62) rotate(0.1)" font-size="3.7" fill="#2b2b2b" stroke="#2b2b2b" stroke-width="0.04" textLength="23.0" lengthAdjust="spacingAndGlyphs">PaCYP420C1</text>
<text transform="translate(509.3,74.24) rotate(0.1)" font-size="3.7" fill="#2b2b2b" stroke="#2b2b2b" stroke-width="0.04" textLength="20.7" lengthAdjust="spacingAndGlyphs">PaCYP6FX5</text>
<text transform="translate(509.3,77.85) rotate(0.1)" font-size="3.7" fill="#2b2b2b" stroke="#2b2b2b" stroke-width="0.04" textLength="20.7" lengthAdjust="spacingAndGlyphs">PaCYP6EU8</text>
<text transform="translate(509.3,81.47) rotate(0.1)" font-size="3.7" fill="#2b2b2b" stroke="#2b2b2b" stroke-width="0.04" textLength="20.7" lengthAdjust="spacingAndGlyphs">PaCYP6EU7</text>
<text transform="translate(509.3,85.08) rotate(0.1)" font-size="3.7" fill="#2b2b2b" stroke="#2b2b2b" stroke-width="0.04" textLength="20.7" lengthAdjust="spacingAndGlyphs">PaCYP6MA1</text>
<text transform="translate(509.3,88.70) rotate(0.1)" font-size="3.7" fill="#2b2b2b" stroke="#2b2b2b" stroke-width="0.04" textLength="23.0" lengthAdjust="spacingAndGlyphs">PaCYP4C147</text>
<text transform="translate(509.3,92.31) rotate(0.1)" font-size="3.7" fill="#2b2b2b" stroke="#2b2b2b" stroke-width="0.04" textLength="23.0" lengthAdjust="spacingAndGlyphs">PaCYP4D105</text>
<text transform="translate(509.3,95.93) rotate(0.1)" font-size="3.7" fill="#2b2b2b" stroke="#2b2b2b" stroke-width="0.04" textLength="23.0" lengthAdjust="spacingAndGlyphs">PaCYP4D106</text>
<text transform="translate(509.3,99.54) rotate(0.1)" font-size="3.7" fill="#2b2b2b" stroke="#2b2b2b" stroke-width="0.04" textLength="23.0" lengthAdjust="spacingAndGlyphs">PaCYP325A1</text>
<text transform="translate(509.3,103.16) rotate(0.1)" font-size="3.7" fill="#2b2b2b" stroke="#2b2b2b" stroke-width="0.04" textLength="20.7" lengthAdjust="spacingAndGlyphs">PaCYP4MR6</text>
<text transform="translate(509.3,106.77) rotate(0.1)" font-size="3.7" fill="#2b2b2b" stroke="#2b2b2b" stroke-width="0.04" textLength="23.0" lengthAdjust="spacingAndGlyphs">PaCYP314A1</text>
<text transform="translate(509.3,110.39) rotate(0.1)" font-size="3.7" fill="#2b2b2b" stroke="#2b2b2b" stroke-width="0.04" textLength="25.3" lengthAdjust="spacingAndGlyphs">PaCYP6AAA1P</text>
<text transform="translate(509.3,114.00) rotate(0.1)" font-size="3.7" fill="#2b2b2b" stroke="#2b2b2b" stroke-width="0.04" textLength="18.4" lengthAdjust="spacingAndGlyphs">PaCYP4Q2</text>
<text transform="translate(509.3,117.62) rotate(0.1)" font-size="3.7" fill="#2b2b2b" stroke="#2b2b2b" stroke-width="0.04" textLength="20.7" lengthAdjust="spacingAndGlyphs">PaCYP6FW1</text>
<text transform="translate(509.3,121.23) rotate(0.1)" font-size="3.7" fill="#2b2b2b" stroke="#2b2b2b" stroke-width="0.04" textLength="18.4" lengthAdjust="spacingAndGlyphs">PaCYP4G1</text>
<text transform="translate(509.3,124.85) rotate(0.1)" font-size="3.7" fill="#2b2b2b" stroke="#2b2b2b" stroke-width="0.04" textLength="18.4" lengthAdjust="spacingAndGlyphs">PaCYP9E3</text>
<text transform="translate(509.3,128.46) rotate(0.1)" font-size="3.7" fill="#2b2b2b" stroke="#2b2b2b" stroke-width="0.04" textLength="18.4" lengthAdjust="spacingAndGlyphs">PaCYP6J1</text>
<text transform="translate(509.3,132.08) rotate(0.1)" font-size="3.7" fill="#2b2b2b" stroke="#2b2b2b" stroke-width="0.04" textLength="20.7" lengthAdjust="spacingAndGlyphs">PaCYP4ZA1</text>
<text transform="translate(509.3,135.69) rotate(0.1)" font-size="3.7" fill="#2b2b2b" stroke="#2b2b2b" stroke-width="0.04" textLength="18.4" lengthAdjust="spacingAndGlyphs">PaCYP6L1</text>
<text transform="translate(509.3,139.31) rotate(0.1)" font-size="3.7" fill="#2b2b2b" stroke="#2b2b2b" stroke-width="0.04" textLength="20.7" lengthAdjust="spacingAndGlyphs">PaCYP15A1</text>
<text transform="translate(509.3,142.92) rotate(0.1)" font-size="3.7" fill="#2b2b2b" stroke="#2b2b2b" stroke-width="0.04" textLength="23.0" lengthAdjust="spacingAndGlyphs">PaCYP301A1</text>
<text transform="translate(509.3,146.54) rotate(0.1)" font-size="3.7" fill="#2b2b2b" stroke="#2b2b2b" stroke-width="0.04" textLength="25.3" lengthAdjust="spacingAndGlyphs">PaCYP325BP1</text>
<text transform="translate(509.3,150.15) rotate(0.1)" font-size="3.7" fill="#2b2b2b" stroke="#2b2b2b" stroke-width="0.04" textLength="25.3" lengthAdjust="spacingAndGlyphs">PaCYP3998B1</text>
<text transform="translate(509.3,153.77) rotate(0.1)" font-size="3.7" fill="#2b2b2b" stroke="#2b2b2b" stroke-width="0.04" textLength="23.0" lengthAdjust="spacingAndGlyphs">PaCYP306A1</text>
<text transform="translate(509.3,157.38) rotate(0.1)" font-size="3.7" fill="#2b2b2b" stroke="#2b2b2b" stroke-width="0.04" textLength="23.0" lengthAdjust="spacingAndGlyphs">PaCYP301B1</text>
<text transform="translate(509.3,161.00) rotate(0.1)" font-size="3.7" fill="#2b2b2b" stroke="#2b2b2b" stroke-width="0.04" textLength="25.3" lengthAdjust="spacingAndGlyphs">PaCYP3998A6</text>
<text transform="translate(509.3,164.61) rotate(0.1)" font-size="3.7" fill="#2b2b2b" stroke="#2b2b2b" stroke-width="0.04" textLength="20.7" lengthAdjust="spacingAndGlyphs">PaCYP9HH1</text>
<text transform="translate(509.3,168.23) rotate(0.1)" font-size="3.7" fill="#2b2b2b" stroke="#2b2b2b" stroke-width="0.04" textLength="20.7" lengthAdjust="spacingAndGlyphs">PaCYP6ZZ1</text>
<text transform="translate(509.3,171.84) rotate(0.1)" font-size="3.7" fill="#2b2b2b" stroke="#2b2b2b" stroke-width="0.04" textLength="23.0" lengthAdjust="spacingAndGlyphs">PaCYP302A1</text>
<text transform="translate(509.3,175.46) rotate(0.1)" font-size="3.7" fill="#2b2b2b" stroke="#2b2b2b" stroke-width="0.04" textLength="20.7" lengthAdjust="spacingAndGlyphs">PaCYP4C31</text>
<text transform="translate(509.3,179.07) rotate(0.1)" font-size="3.7" fill="#2b2b2b" stroke="#2b2b2b" stroke-width="0.04" textLength="25.3" lengthAdjust="spacingAndGlyphs">PaCYP3987D1</text>
<text transform="translate(509.3,182.69) rotate(0.1)" font-size="3.7" fill="#2b2b2b" stroke="#2b2b2b" stroke-width="0.04" textLength="20.7" lengthAdjust="spacingAndGlyphs">PaCYP18A1</text>
<text transform="translate(509.3,186.30) rotate(0.1)" font-size="3.7" fill="#2b2b2b" stroke="#2b2b2b" stroke-width="0.04" textLength="20.7" lengthAdjust="spacingAndGlyphs">PaCYP4G31</text>
<text transform="translate(509.3,189.92) rotate(0.1)" font-size="3.7" fill="#2b2b2b" stroke="#2b2b2b" stroke-width="0.04" textLength="18.4" lengthAdjust="spacingAndGlyphs">PaCYP4Z1</text>
<text transform="translate(509.3,193.53) rotate(0.1)" font-size="3.7" fill="#2b2b2b" stroke="#2b2b2b" stroke-width="0.04" textLength="25.3" lengthAdjust="spacingAndGlyphs">PaCYP3987C3</text>
<text transform="translate(509.3,197.15) rotate(0.1)" font-size="3.7" fill="#2b2b2b" stroke="#2b2b2b" stroke-width="0.04" textLength="23.0" lengthAdjust="spacingAndGlyphs">PaCYP307A2</text>
<text transform="translate(509.3,200.76) rotate(0.1)" font-size="3.7" fill="#2b2b2b" stroke="#2b2b2b" stroke-width="0.04" textLength="25.3" lengthAdjust="spacingAndGlyphs">PaCYP3987C5</text>
<text transform="translate(509.3,204.38) rotate(0.1)" font-size="3.7" fill="#2b2b2b" stroke="#2b2b2b" stroke-width="0.04" textLength="18.4" lengthAdjust="spacingAndGlyphs">PaCYP4Y1</text>
<text transform="translate(509.3,207.99) rotate(0.1)" font-size="3.7" fill="#2b2b2b" stroke="#2b2b2b" stroke-width="0.04" textLength="18.4" lengthAdjust="spacingAndGlyphs">PaCYP4Y2</text>
<text transform="translate(509.3,211.61) rotate(0.1)" font-size="3.7" fill="#2b2b2b" stroke="#2b2b2b" stroke-width="0.04" textLength="23.0" lengthAdjust="spacingAndGlyphs">PaCYP315A1</text>
<text transform="translate(509.3,215.22) rotate(0.1)" font-size="3.7" fill="#2b2b2b" stroke="#2b2b2b" stroke-width="0.04" textLength="20.7" lengthAdjust="spacingAndGlyphs">PaCYP4QD1</text>
<text transform="translate(509.3,218.84) rotate(0.1)" font-size="3.7" fill="#2b2b2b" stroke="#2b2b2b" stroke-width="0.04" textLength="25.3" lengthAdjust="spacingAndGlyphs">PaCYP3998C1</text>
<text transform="translate(509.3,222.45) rotate(0.1)" font-size="3.7" fill="#2b2b2b" stroke="#2b2b2b" stroke-width="0.04" textLength="23.0" lengthAdjust="spacingAndGlyphs">PaCYP6AAC1</text>
<text transform="translate(509.3,226.07) rotate(0.1)" font-size="3.7" fill="#2b2b2b" stroke="#2b2b2b" stroke-width="0.04" textLength="20.7" lengthAdjust="spacingAndGlyphs">PaCYP4Y17</text>
<text transform="translate(509.3,229.68) rotate(0.1)" font-size="3.7" fill="#2b2b2b" stroke="#2b2b2b" stroke-width="0.04" textLength="25.3" lengthAdjust="spacingAndGlyphs">PaCYP3987A6</text>
<text transform="translate(509.3,233.30) rotate(0.1)" font-size="3.7" fill="#2b2b2b" stroke="#2b2b2b" stroke-width="0.04" textLength="25.3" lengthAdjust="spacingAndGlyphs">PaCYP3987B1</text>
<text transform="translate(509.3,236.91) rotate(0.1)" font-size="3.7" fill="#2b2b2b" stroke="#2b2b2b" stroke-width="0.04" textLength="25.3" lengthAdjust="spacingAndGlyphs">PaCYP3998A4</text>
<text transform="translate(509.3,240.53) rotate(0.1)" font-size="3.7" fill="#2b2b2b" stroke="#2b2b2b" stroke-width="0.04" textLength="23.0" lengthAdjust="spacingAndGlyphs">PaCYP305A1</text>
<text transform="translate(509.3,244.14) rotate(0.1)" font-size="3.7" fill="#2b2b2b" stroke="#2b2b2b" stroke-width="0.04" textLength="20.7" lengthAdjust="spacingAndGlyphs">PaCYP4Y15</text>
<text transform="translate(509.3,247.76) rotate(0.1)" font-size="3.7" fill="#2b2b2b" stroke="#2b2b2b" stroke-width="0.04" textLength="18.4" lengthAdjust="spacingAndGlyphs">PaCYP4G3</text>
<text transform="translate(509.3,251.37) rotate(0.1)" font-size="3.7" fill="#2b2b2b" stroke="#2b2b2b" stroke-width="0.04" textLength="25.3" lengthAdjust="spacingAndGlyphs">PaCYP3987A5</text>
<text transform="translate(509.3,254.99) rotate(0.1)" font-size="3.7" fill="#2b2b2b" stroke="#2b2b2b" stroke-width="0.04" textLength="18.4" lengthAdjust="spacingAndGlyphs">PaCYP6K1</text>
<text transform="translate(509.3,258.60) rotate(0.1)" font-size="3.7" fill="#2b2b2b" stroke="#2b2b2b" stroke-width="0.04" textLength="20.7" lengthAdjust="spacingAndGlyphs">PaCYP6AD2</text>
<defs><linearGradient id="cb" x1="0" y1="0" x2="0" y2="1"><stop offset="0.0" stop-color="#d73027"/><stop offset="0.11" stop-color="#e8553a"/><stop offset="0.21" stop-color="#f89d59"/><stop offset="0.28" stop-color="#fcc980"/><stop offset="0.35" stop-color="#fee99a"/><stop offset="0.41" stop-color="#fff8c5"/><stop offset="0.456" stop-color="#f5fbe8"/><stop offset="0.502" stop-color="#e0f0f6"/><stop offset="0.56" stop-color="#bfdcec"/><stop offset="0.63" stop-color="#91c2e0"/><stop offset="0.7" stop-color="#6fa3cf"/><stop offset="0.79" stop-color="#4a7fbf"/><stop offset="0.88" stop-color="#3f6fb5"/><stop offset="1.0" stop-color="#3a66b0"/></linearGradient></defs>
<rect x="537.7" y="27.9" width="3.7" height="62.6" fill="url(#cb)"/>
<text transform="translate(542.8,35.80) rotate(0.1)" font-size="4" fill="#333">3</text>
<text transform="translate(542.8,44.00) rotate(0.1)" font-size="4" fill="#333">2</text>
<text transform="translate(542.8,52.50) rotate(0.1)" font-size="4" fill="#333">1</text>
<text transform="translate(542.8,60.90) rotate(0.1)" font-size="4" fill="#333">0</text>
<text transform="translate(542.8,69.30) rotate(0.1)" font-size="4" fill="#333">-1</text>
<text transform="translate(542.8,77.70) rotate(0.1)" font-size="4" fill="#333">-2</text>
<text transform="translate(542.8,86.10) rotate(0.1)" font-size="4" fill="#333">-3</text>
<text x="314" y="278.6" font-size="6.8" fill="#111" stroke="#111" stroke-width="0.12" textLength="45" lengthAdjust="spacingAndGlyphs">CV-5 μg/l CPF</text>
<text x="365" y="278.6" font-size="6.8" fill="#111" stroke="#111" stroke-width="0.12" textLength="45" lengthAdjust="spacingAndGlyphs">GD-5 μg/l CPF</text>
<text x="415" y="278.6" font-size="6.8" fill="#111" stroke="#111" stroke-width="0.12" textLength="50" lengthAdjust="spacingAndGlyphs">CV-50 μg/l CPF</text>
<text x="467" y="278.6" font-size="6.8" fill="#111" stroke="#111" stroke-width="0.12" textLength="51" lengthAdjust="spacingAndGlyphs">GD-50 μg/l CPF</text>
<text transform="translate(6.3,326.6) scale(0.85,1)" font-size="14.6" fill="#000">C</text>
<line x1="47.90" y1="330.00" x2="47.90" y2="450.90" stroke="#8c8c8c" stroke-width="1.4"/>
<line x1="44.30" y1="330.00" x2="47.90" y2="330.00" stroke="#777" stroke-width="1.1"/>
<text x="42.5" y="331.80" font-size="5" font-weight="bold" fill="#222" text-anchor="end">4</text>
<line x1="44.30" y1="350.15" x2="47.90" y2="350.15" stroke="#777" stroke-width="1.1"/>
<text x="42.5" y="351.95" font-size="5" font-weight="bold" fill="#222" text-anchor="end">3</text>
<line x1="44.30" y1="370.30" x2="47.90" y2="370.30" stroke="#777" stroke-width="1.1"/>
<text x="42.5" y="372.10" font-size="5" font-weight="bold" fill="#222" text-anchor="end">2</text>
<line x1="44.30" y1="390.45" x2="47.90" y2="390.45" stroke="#777" stroke-width="1.1"/>
<text x="42.5" y="392.25" font-size="5" font-weight="bold" fill="#222" text-anchor="end">1</text>
<line x1="44.30" y1="410.60" x2="47.90" y2="410.60" stroke="#777" stroke-width="1.1"/>
<text x="42.5" y="412.40" font-size="5" font-weight="bold" fill="#222" text-anchor="end">0</text>
<line x1="44.30" y1="430.75" x2="47.90" y2="430.75" stroke="#777" stroke-width="1.1"/>
<text x="42.5" y="432.55" font-size="5" font-weight="bold" fill="#222" text-anchor="end">-1</text>
<line x1="44.30" y1="450.90" x2="47.90" y2="450.90" stroke="#777" stroke-width="1.1"/>
<text x="42.5" y="452.70" font-size="5" font-weight="bold" fill="#222" text-anchor="end">-2</text>
<rect x="50.50" y="380.38" width="5.45" height="30.22" fill="#0000ff"/>
<rect x="58.85" y="375.34" width="5.45" height="35.26" fill="#ff0000"/>
<rect x="72.50" y="380.38" width="5.45" height="30.22" fill="#0000ff"/>
<rect x="80.85" y="380.38" width="5.45" height="30.22" fill="#ff0000"/>
<rect x="94.50" y="370.90" width="5.45" height="39.70" fill="#0000ff"/>
<rect x="102.85" y="369.29" width="5.45" height="41.31" fill="#ff0000"/>
<rect x="124.85" y="401.94" width="5.45" height="8.66" fill="#ff0000"/>
<rect x="138.50" y="410.60" width="5.45" height="16.12" fill="#0000ff"/>
<rect x="146.85" y="410.60" width="5.45" height="14.10" fill="#ff0000"/>
<rect x="160.50" y="408.18" width="5.45" height="2.42" fill="#0000ff"/>
<rect x="168.85" y="405.56" width="5.45" height="5.04" fill="#ff0000"/>
<rect x="182.50" y="410.60" width="5.45" height="22.16" fill="#0000ff"/>
<rect x="190.85" y="410.60" width="5.45" height="11.69" fill="#ff0000"/>
<rect x="204.50" y="348.14" width="5.45" height="62.46" fill="#0000ff"/>
<rect x="212.85" y="355.79" width="5.45" height="54.81" fill="#ff0000"/>
<rect x="226.50" y="378.36" width="5.45" height="32.24" fill="#0000ff"/>
<rect x="234.85" y="376.75" width="5.45" height="33.85" fill="#ff0000"/>
<line x1="44.30" y1="410.60" x2="244.90" y2="410.60" stroke="#3a3a3a" stroke-width="1.0"/>
<text x="61.6" y="370.6" font-size="5" font-weight="bold" fill="#333" text-anchor="middle">***</text>
<text x="83.5" y="377.0" font-size="5" font-weight="bold" fill="#333" text-anchor="middle">**</text>
<text x="105.3" y="364.3" font-size="5" font-weight="bold" fill="#333" text-anchor="middle">***</text>
<text x="149.6" y="434.3" font-size="5" font-weight="bold" fill="#333" text-anchor="middle">*</text>
<text x="215.4" y="352.0" font-size="5" font-weight="bold" fill="#333" text-anchor="middle">***</text>
<text x="237.2" y="373.3" font-size="5" font-weight="bold" fill="#333" text-anchor="middle">***</text>
<rect x="53.00" y="335.80" width="13.2" height="2.5" fill="#0000ff"/>
<rect x="53.00" y="346.00" width="13.2" height="2.6" fill="#ff0000"/>
<text x="69.80" y="338.20" font-size="6.7" fill="#333" textLength="23" lengthAdjust="spacingAndGlyphs">RNA-Seq</text>
<text x="69.80" y="349.90" font-size="6.7" fill="#333" textLength="23.3" lengthAdjust="spacingAndGlyphs">RT-qPCR</text>
<text transform="translate(24.50,392.3) rotate(-90)" font-size="6.4" fill="#222" text-anchor="middle">Log<tspan font-size="4.3" dy="1.5">2</tspan><tspan dy="-1.5">FC</tspan></text>
<text transform="translate(59.70,449.1) rotate(-45)" font-size="5.6" font-weight="bold" fill="#111" stroke="#111" stroke-width="0.12" text-anchor="end">PaCYP6FW1</text>
<text transform="translate(81.70,449.1) rotate(-45)" font-size="5.6" font-weight="bold" fill="#111" stroke="#111" stroke-width="0.12" text-anchor="end">PaCYP4YZ1</text>
<text transform="translate(103.70,449.1) rotate(-45)" font-size="5.6" font-weight="bold" fill="#111" stroke="#111" stroke-width="0.12" text-anchor="end">PaCYP6FX5</text>
<text transform="translate(125.70,449.1) rotate(-45)" font-size="5.6" font-weight="bold" fill="#111" stroke="#111" stroke-width="0.12" text-anchor="end">PaCYP3987D1</text>
<text transform="translate(147.70,449.1) rotate(-45)" font-size="5.6" font-weight="bold" fill="#111" stroke="#111" stroke-width="0.12" text-anchor="end">PaCYP9HJ1</text>
<text transform="translate(169.70,449.1) rotate(-45)" font-size="5.6" font-weight="bold" fill="#111" stroke="#111" stroke-width="0.12" text-anchor="end">PaCYP3998B1</text>
<text transform="translate(191.70,449.1) rotate(-45)" font-size="5.6" font-weight="bold" fill="#111" stroke="#111" stroke-width="0.12" text-anchor="end">PaCYP301A1</text>
<text transform="translate(213.70,449.1) rotate(-45)" font-size="5.6" font-weight="bold" fill="#111" stroke="#111" stroke-width="0.12" text-anchor="end">PaCYP325BP1</text>
<text transform="translate(235.70,449.1) rotate(-45)" font-size="5.6" font-weight="bold" fill="#111" stroke="#111" stroke-width="0.12" text-anchor="end">PaCYP420C1</text>
<text transform="translate(288.4,326.6) scale(0.85,1)" font-size="14.6" fill="#000">D</text>
<line x1="324.60" y1="329.80" x2="324.60" y2="449.80" stroke="#8c8c8c" stroke-width="1.4"/>
<line x1="321.00" y1="329.80" x2="324.60" y2="329.80" stroke="#777" stroke-width="1.1"/>
<text x="319.20000000000005" y="331.60" font-size="5" font-weight="bold" fill="#222" text-anchor="end">2</text>
<line x1="321.00" y1="359.80" x2="324.60" y2="359.80" stroke="#777" stroke-width="1.1"/>
<text x="319.20000000000005" y="361.60" font-size="5" font-weight="bold" fill="#222" text-anchor="end">1</text>
<line x1="321.00" y1="389.80" x2="324.60" y2="389.80" stroke="#777" stroke-width="1.1"/>
<text x="319.20000000000005" y="391.60" font-size="5" font-weight="bold" fill="#222" text-anchor="end">0</text>
<line x1="321.00" y1="419.80" x2="324.60" y2="419.80" stroke="#777" stroke-width="1.1"/>
<text x="319.20000000000005" y="421.60" font-size="5" font-weight="bold" fill="#222" text-anchor="end">-1</text>
<line x1="321.00" y1="449.80" x2="324.60" y2="449.80" stroke="#777" stroke-width="1.1"/>
<text x="319.20000000000005" y="451.60" font-size="5" font-weight="bold" fill="#222" text-anchor="end">-2</text>
<rect x="327.65" y="389.80" width="5.45" height="11.70" fill="#0000ff"/>
<rect x="336.00" y="389.80" width="5.45" height="8.10" fill="#ff0000"/>
<rect x="349.87" y="379.00" width="5.45" height="10.80" fill="#0000ff"/>
<rect x="358.22" y="389.80" width="5.45" height="3.60" fill="#ff0000"/>
<rect x="372.09" y="389.80" width="5.45" height="14.40" fill="#0000ff"/>
<rect x="380.44" y="389.80" width="5.45" height="6.60" fill="#ff0000"/>
<rect x="394.31" y="389.80" width="5.45" height="32.70" fill="#0000ff"/>
<rect x="402.66" y="389.80" width="5.45" height="33.60" fill="#ff0000"/>
<rect x="416.53" y="389.80" width="5.45" height="9.00" fill="#0000ff"/>
<rect x="424.88" y="389.80" width="5.45" height="11.70" fill="#ff0000"/>
<rect x="438.75" y="389.80" width="5.45" height="31.20" fill="#0000ff"/>
<rect x="447.10" y="389.80" width="5.45" height="25.80" fill="#ff0000"/>
<rect x="460.97" y="371.50" width="5.45" height="18.30" fill="#0000ff"/>
<rect x="469.32" y="380.80" width="5.45" height="9.00" fill="#ff0000"/>
<rect x="483.19" y="351.10" width="5.45" height="38.70" fill="#0000ff"/>
<rect x="491.54" y="357.10" width="5.45" height="32.70" fill="#ff0000"/>
<rect x="505.41" y="389.80" width="5.45" height="16.80" fill="#0000ff"/>
<rect x="513.76" y="389.80" width="5.45" height="3.90" fill="#ff0000"/>
<line x1="321.00" y1="389.80" x2="523.81" y2="389.80" stroke="#858585" stroke-width="1.5"/>
<text x="405.3" y="432.6" font-size="5" font-weight="bold" fill="#333" text-anchor="middle">***</text>
<text x="450" y="427.1" font-size="5" font-weight="bold" fill="#333" text-anchor="middle">*</text>
<text x="494" y="352.7" font-size="5" font-weight="bold" fill="#333" text-anchor="middle">**</text>
<rect x="331.30" y="335.10" width="13.2" height="2.5" fill="#0000ff"/>
<rect x="331.30" y="345.30" width="13.2" height="2.6" fill="#ff0000"/>
<text x="348.10" y="337.50" font-size="6.7" fill="#333" textLength="23" lengthAdjust="spacingAndGlyphs">RNA-Seq</text>
<text x="348.10" y="349.20" font-size="6.7" fill="#333" textLength="23.3" lengthAdjust="spacingAndGlyphs">RT-qPCR</text>
<text transform="translate(301.20,392.3) rotate(-90)" font-size="6.4" fill="#222" text-anchor="middle">Log<tspan font-size="4.3" dy="1.5">2</tspan><tspan dy="-1.5">FC</tspan></text>
<text transform="translate(336.85,449.1) rotate(-45)" font-size="5.6" font-weight="bold" fill="#111" stroke="#111" stroke-width="0.12" text-anchor="end">PaCYP6FW1</text>
<text transform="translate(359.07,449.1) rotate(-45)" font-size="5.6" font-weight="bold" fill="#111" stroke="#111" stroke-width="0.12" text-anchor="end">PaCYP4YZ1</text>
<text transform="translate(381.29,449.1) rotate(-45)" font-size="5.6" font-weight="bold" fill="#111" stroke="#111" stroke-width="0.12" text-anchor="end">PaCYP6FX5</text>
<text transform="translate(403.51,449.1) rotate(-45)" font-size="5.6" font-weight="bold" fill="#111" stroke="#111" stroke-width="0.12" text-anchor="end">PaCYP3987D1</text>
<text transform="translate(425.73,449.1) rotate(-45)" font-size="5.6" font-weight="bold" fill="#111" stroke="#111" stroke-width="0.12" text-anchor="end">PaCYP9HJ1</text>
<text transform="translate(447.95,449.1) rotate(-45)" font-size="5.6" font-weight="bold" fill="#111" stroke="#111" stroke-width="0.12" text-anchor="end">PaCYP3998B1</text>
<text transform="translate(470.17,449.1) rotate(-45)" font-size="5.6" font-weight="bold" fill="#111" stroke="#111" stroke-width="0.12" text-anchor="end">PaCYP301A1</text>
<text transform="translate(492.39,449.1) rotate(-45)" font-size="5.6" font-weight="bold" fill="#111" stroke="#111" stroke-width="0.12" text-anchor="end">PaCYP325BP1</text>
<text transform="translate(514.61,449.1) rotate(-45)" font-size="5.6" font-weight="bold" fill="#111" stroke="#111" stroke-width="0.12" text-anchor="end">PaCYP420C1</text>
</svg>
</body></html>
